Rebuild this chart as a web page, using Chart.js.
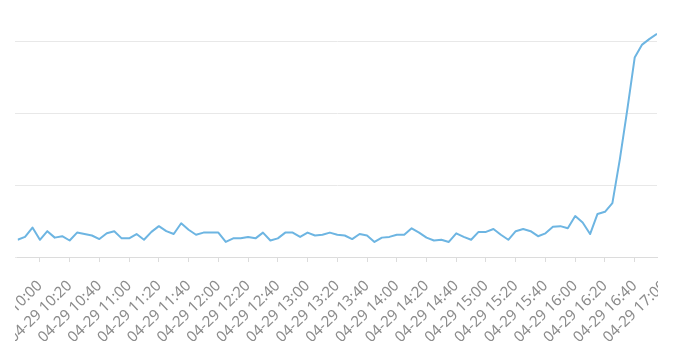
<!DOCTYPE html>
<html>
<head>
<meta charset="utf-8">
<script src="https://cdn.jsdelivr.net/npm/chart.js@4"></script>
<style>
  html, body { margin: 0; padding: 0; background: #fff; overflow: hidden; }
  #wrap { position: absolute; left: 15px; top: 0; width: 643px; height: 349px; overflow: hidden; }
  #chart { position: absolute; left: -15px; top: -40px; }
</style>
</head>
<body>
<div id="wrap"><canvas id="chart" width="674" height="389"></canvas></div>
<script>
const times = [
  "09:45", "09:50", "09:55", "10:00", "10:05", "10:10", "10:15", "10:20", "10:25", "10:30",
  "10:35", "10:40", "10:45", "10:50", "10:55", "11:00", "11:05", "11:10", "11:15", "11:20",
  "11:25", "11:30", "11:35", "11:40", "11:45", "11:50", "11:55", "12:00", "12:05", "12:10",
  "12:15", "12:20", "12:25", "12:30", "12:35", "12:40", "12:45", "12:50", "12:55", "13:00",
  "13:05", "13:10", "13:15", "13:20", "13:25", "13:30", "13:35", "13:40", "13:45", "13:50",
  "13:55", "14:00", "14:05", "14:10", "14:15", "14:20", "14:25", "14:30", "14:35", "14:40",
  "14:45", "14:50", "14:55", "15:00", "15:05", "15:10", "15:15", "15:20", "15:25", "15:30",
  "15:35", "15:40", "15:45", "15:50", "15:55", "16:00", "16:05", "16:10", "16:15", "16:20",
  "16:25", "16:30", "16:35", "16:40", "16:45", "16:50", "16:55"
];

const values = [
  24, 28, 41, 24, 36, 27, 29, 23, 34, 32,
  30, 25, 33, 36, 26, 26, 32, 24, 35, 43,
  36, 32, 47, 38, 31, 34, 34, 34, 21, 26,
  26, 28, 26, 34, 23, 26, 34, 34, 28, 34,
  30, 31, 34, 31, 30, 25, 32, 30, 21, 27,
  28, 31, 31, 40, 34, 27, 23, 24, 21, 33,
  28, 24, 35, 35, 39, 31, 24, 36, 39, 36,
  29, 33, 42, 43, 40, 57, 48, 32, 60, 63,
  75, 136, 205, 278, 296, 304, 311
];

const tickLabels = [
  "04-29 10:00", "04-29 10:20", "04-29 10:40", "04-29 11:00", "04-29 11:20", "04-29 11:40",
  "04-29 12:00", "04-29 12:20", "04-29 12:40", "04-29 13:00", "04-29 13:20", "04-29 13:40",
  "04-29 14:00", "04-29 14:20", "04-29 14:40", "04-29 15:00", "04-29 15:20", "04-29 15:40",
  "04-29 16:00", "04-29 16:20", "04-29 16:40", "04-29 17:00"
];

function toMinutes(hhmm) {
  const parts = hhmm.split(":");
  return Number(parts[0]) * 60 + Number(parts[1]);
}

const points = times.map((t, i) => ({ x: toMinutes(t), y: values[i] }));
const xMin = toMinutes(times[0]);
const xMax = toMinutes(times[times.length - 1]);
const labelByMinute = {};
for (const label of tickLabels) {
  labelByMinute[toMinutes(label.split(" ")[1])] = label;
}

new Chart(document.getElementById("chart"), {
  type: "line",
  data: {
    datasets: [
      {
        data: points,
        borderColor: "#6db5e2",
        borderWidth: 2,
        borderJoinStyle: "round",
        pointRadius: 0,
        tension: 0,
        fill: false,
      },
    ],
  },
  options: {
    responsive: false,
    animation: false,
    layout: { padding: { top: 10, right: 17, left: 0, bottom: 0 } },
    plugins: { legend: { display: false }, tooltip: { enabled: false } },
    scales: {
      x: {
        type: "linear",
        min: xMin,
        max: xMax,
        afterBuildTicks: (scale) => {
          scale.ticks = Object.keys(labelByMinute).map((m) => ({ value: Number(m) }));
        },
        afterFit: (scale) => {
          scale.height = 92;
          scale.paddingLeft = 0;
          scale.paddingRight = 0;
        },
        border: { display: true, color: "#dcdcdc", width: 1 },
        grid: {
          drawOnChartArea: false,
          drawTicks: true,
          tickLength: 5,
          color: (ctx) => (ctx.tick && ctx.tick.value > xMax ? "rgba(0,0,0,0)" : "#dcdcdc"),
        },
        ticks: {
          autoSkip: false,
          minRotation: 44,
          maxRotation: 44,
          padding: 15,
          labelOffset: 0,
          color: "#8c8c8c",
          font: { family: "'Noto Sans', sans-serif", size: 15 },
          callback: (value) => labelByMinute[value] || "",
        },
      },
      y: {
        min: 0,
        max: 400,
        afterFit: (scale) => {
          scale.width = 17.6;
        },
        border: { display: false },
        grid: { color: "#e8e8e8", drawTicks: true, tickLength: 3 },
        ticks: { display: false, stepSize: 100 },
      },
    },
  },
});
</script>
</body>
</html>
